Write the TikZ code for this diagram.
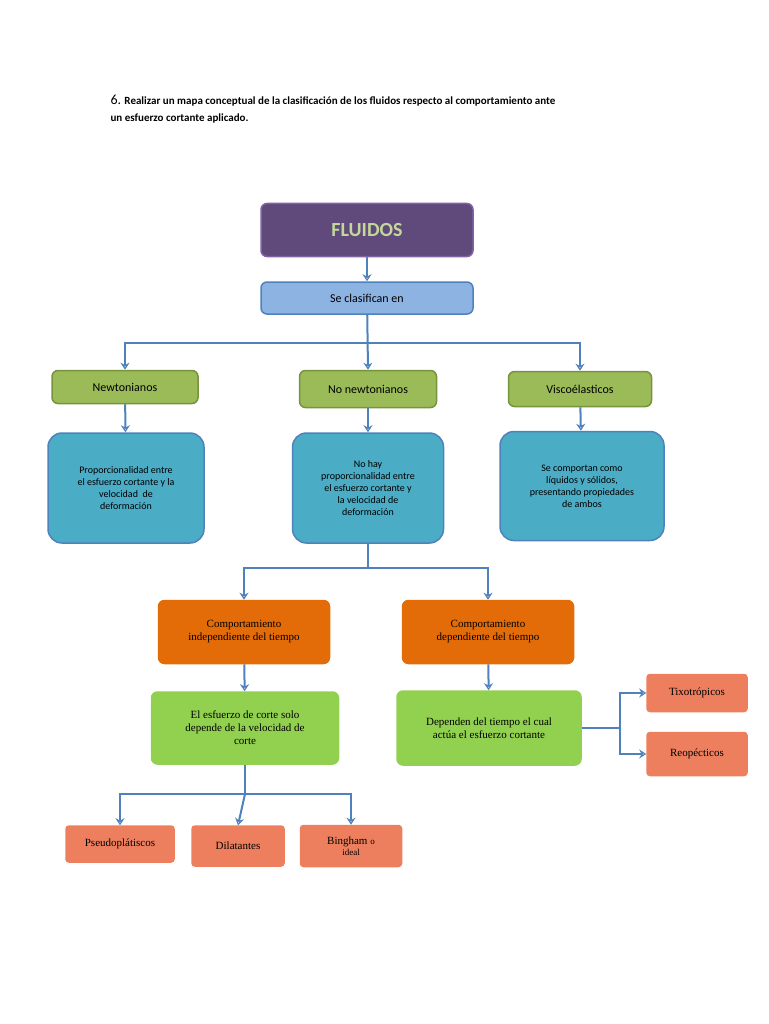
\documentclass[tikz,border=0pt]{standalone}
\usepackage{fontspec}
\setmainfont{Carlito}
\newfontfamily\serifo{Liberation Serif}
\usetikzlibrary{arrows.meta}
\definecolor{purp}{HTML}{604A7B}\definecolor{purpb}{HTML}{8064A2}
\definecolor{lblue}{HTML}{8DB3E2}\definecolor{blueb}{HTML}{4F81BD}
\definecolor{olive}{HTML}{9BBB59}\definecolor{oliveb}{HTML}{77933C}
\definecolor{teal}{HTML}{4BACC6}\definecolor{orng}{HTML}{E36C09}
\definecolor{lgreen}{HTML}{92D050}\definecolor{salm}{HTML}{EE7F5E}
\definecolor{ftxt}{HTML}{C3D69B}
\begin{document}
\begin{tikzpicture}[x=1pt,y=-1pt,
 box/.style={rounded corners=6pt,line width=1.5pt,align=center,font=\fontsize{10}{12}\selectfont},
 arr/.style={draw=blueb,line width=2pt,-{Stealth[length=7pt,width=9pt,open]}},
 ln/.style={draw=blueb,line width=2pt},
 ser/.style={font=\serifo\fontsize{11}{13}\selectfont,align=center}]
\useasboundingbox (0,0) rectangle (768,1024);
\node[anchor=west,font=\bfseries\fontsize{11}{13}\selectfont] (t1) at (107,101) {{\mdseries\fontsize{14}{14}\selectfont 6.} Realizar un mapa conceptual de la clasificación de los fluidos respecto al comportamiento ante};
\node[anchor=west,font=\bfseries\fontsize{11}{13}\selectfont] (t2) at (107,119) {un esfuerzo cortante aplicado.};
\def\bx#1#2#3#4#5#6#7#8{\draw[box,fill=#6,draw=#7] (#2,#3) rectangle (#4,#5); \node[box,draw=none,#8] (#1) at ({(#2+#4)/2},{(#3+#5)/2}) {};}
\node[box,fill=purp,draw=purpb,minimum width=212pt,minimum height=53pt,text=ftxt,font=\bfseries\fontsize{20}{22}\selectfont] (fl) at (367,230) {FLUIDOS};
\node[box,fill=lblue,draw=blueb,minimum width=212pt,minimum height=32pt,font=\fontsize{12}{14}\selectfont] (se) at (367,298) {Se clasifican en};
\node[box,fill=olive,draw=oliveb,minimum width=146pt,minimum height=33pt,font=\fontsize{12}{14}\selectfont] (ne) at (125,387) {Newtonianos};
\node[box,fill=olive,draw=oliveb,minimum width=137pt,minimum height=37pt,font=\fontsize{12}{14}\selectfont] (nn) at (368,389) {No newtonianos};
\node[box,fill=olive,draw=oliveb,minimum width=143pt,minimum height=35pt,font=\fontsize{12}{14}\selectfont] (vi) at (580,389) {Viscoélasticos};
\node[box,fill=teal,draw=blueb,minimum width=156pt,minimum height=110pt,rounded corners=14pt] (b1) at (126,488) {Proporcionalidad entre\\el esfuerzo cortante y la\\velocidad~ de\\deformación};
\node[box,fill=teal,draw=blueb,minimum width=151pt,minimum height=110pt,rounded corners=14pt] (b2) at (368,488) {No hay\\proporcionalidad entre\\el esfuerzo cortante y\\la velocidad de\\deformación};
\node[box,fill=teal,draw=blueb,minimum width=164pt,minimum height=109pt,rounded corners=14pt] (b3) at (582,486) {Se comportan como\\líquidos y sólidos,\\presentando propiedades\\de ambos};
\node[box,ser,fill=orng,draw=orng,minimum width=171pt,minimum height=63pt] (o1) at (244,632) {Comportamiento\\independiente del tiempo};
\node[box,ser,fill=orng,draw=orng,minimum width=171pt,minimum height=63pt] (o2) at (488,632) {Comportamiento\\dependiente del tiempo};
\node[box,ser,fill=lgreen,draw=lgreen,minimum width=187pt,minimum height=72pt] (g1) at (245,728) {El esfuerzo de corte solo\\depende de la velocidad de\\corte};
\node[box,ser,fill=lgreen,draw=lgreen,minimum width=184pt,minimum height=74pt] (g2) at (489,728) {Dependen del tiempo el cual\\actúa el esfuerzo cortante};
\node[box,ser,fill=salm,draw=salm,minimum width=100pt,minimum height=37pt,rounded corners=3pt] (tx) at (697,693) {Tixotrópicos};
\node[box,ser,fill=salm,draw=salm,minimum width=100pt,minimum height=43pt,rounded corners=3pt] (re) at (697,754) {Reopécticos};
\node[box,ser,fill=salm,draw=salm,minimum width=108pt,minimum height=36pt,rounded corners=3pt] (ps) at (120,844) {Pseudoplátiscos};
\node[box,ser,fill=salm,draw=salm,minimum width=92pt,minimum height=40pt,rounded corners=3pt] (di) at (238,846) {Dilatantes};
\node[box,ser,fill=salm,draw=salm,minimum width=101pt,minimum height=41pt,rounded corners=3pt] (bi) at (351,846) {Bingham {\fontsize{9}{11}\selectfont o}\\[-2pt]{\fontsize{9}{11}\selectfont ideal}};
\coordinate (c1) at (368,343);
\coordinate (c2) at (368,568);
\coordinate (c3) at (245,794);
\coordinate (c4) at (620,728);
\draw[arr] (fl) -- (se);
\draw[arr] (se) -- (c1 |- ne.north);
\draw[arr] (c1) -| (ne.north);
\draw[arr] (c1) -| (vi.north);
\draw[arr] (ne) -- (b1);
\draw[arr] (nn) -- (b2);
\draw[arr] (vi) -- (b3);
\draw[ln] (b2) -- (c2);
\draw[arr] (c2) -| (o1.north);
\draw[arr] (c2) -| (o2.north);
\draw[arr] (o1) -- (g1);
\draw[arr] (o2) -- (g2);
\draw[ln] (g2.east) -- (c4);
\draw[arr] (c4) |- (tx.west);
\draw[arr] (c4) |- (re.west);
\draw[ln] (g1) -- (c3);
\draw[arr] (c3) -| (ps.north);
\draw[arr] (c3) -- (di.north);
\draw[arr] (c3) -| (bi.north);
\end{tikzpicture}
\end{document}
